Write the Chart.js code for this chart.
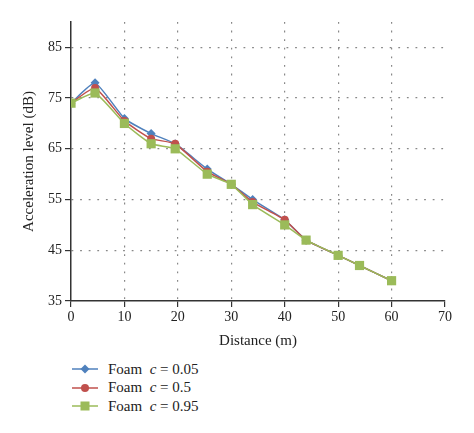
<!DOCTYPE html>
<html>
<head>
<meta charset="utf-8">
<script src="https://cdn.jsdelivr.net/npm/chart.js@4"></script>
<style>
    body { margin: 0; background: #fff; }
    #wrap { position: relative; width: 474px; height: 433px; }
    #chartBox { position: absolute; left: 0; top: 0; width: 474px; height: 352px; }
    #legend { position: absolute; left: 72px; top: 360px; font-family: 'Liberation Serif', serif; font-size: 15px; color: #222; }
    #legend .row { height: 18.5px; display: flex; align-items: center; }
    #legend svg { margin-right: 10px; }
</style>
</head>
<body>
<div id="wrap">
    <div id="chartBox"><canvas id="accelChart"></canvas></div>
    <div id="legend"></div>
</div>
<script>
const distance = [0, 4.5, 10, 15, 19.5, 25.5, 30, 34, 40, 44, 50, 54, 60];
const foamC005 = [74, 78, 71, 68, 66, 61, 58, 55, 51, 47, 44, 42, 39];
const foamC05 = [74, 77, 70.5, 67, 66, 60.5, 58, 54.5, 51, 47, 44, 42, 39];
const foamC095 = [74, 76, 70, 66, 65, 60, 58, 54, 50, 47, 44, 42, 39];
const seriesLabels = ['0.05', '0.5', '0.95'];
const yTicks = [35, 45, 55, 65, 75, 85];

const colors = ['#4f81bd', '#c0504d', '#9bbb59'];
const pointStyles = ['rectRot', 'circle', 'rect'];
const pointRadii = [4.5, 4, 6.5];

function toPoints(values) {
    return distance.map((d, i) => ({ x: d, y: values[i] }));
}

const allSeries = [foamC005, foamC05, foamC095];
const datasets = allSeries.map((values, i) => ({
    label: 'Foam c = ' + seriesLabels[i],
    data: toPoints(values),
    borderColor: colors[i],
    backgroundColor: colors[i],
    borderWidth: 1.5,
    pointStyle: pointStyles[i],
    pointRadius: pointRadii[i],
    pointBorderWidth: 0,
    tension: 0.15,
    order: 2 - i
}));

const serif = "'Liberation Serif', serif";
const dotted = [1.8, 6.8];

const accelChart = new Chart(document.getElementById('accelChart').getContext('2d'), {
    type: 'line',
    data: { datasets: datasets },
    options: {
        responsive: true,
        maintainAspectRatio: false,
        animation: false,
        layout: { padding: { top: 22, right: 29, left: 0, bottom: 0 } },
        plugins: { legend: { display: false }, tooltip: { enabled: false } },
        scales: {
            x: {
                type: 'linear',
                min: 0,
                max: 70,
                ticks: { stepSize: 10, color: '#222', font: { family: serif, size: 14 }, padding: 2, maxRotation: 0 },
                grid: {
                    color: ctx => (ctx.tick && (ctx.tick.value === 0 || ctx.tick.value === 70)) ? 'rgba(0,0,0,0)' : '#888',
                    lineWidth: 1.2,
                    tickColor: '#333',
                    tickLength: 6,
                    tickBorderDash: []
                },
                border: { color: '#333', width: 1.5, dash: dotted },
                title: { display: true, text: 'Distance (m)', color: '#222', font: { family: serif, size: 15 }, padding: { top: 0, bottom: 2 } },
                afterFit: scale => { scale.height = 51; }
            },
            y: {
                min: 35,
                max: 90,
                afterBuildTicks: axis => { axis.ticks = yTicks.map(v => ({ value: v })); },
                ticks: { color: '#222', font: { family: serif, size: 14 }, padding: 3 },
                grid: {
                    color: ctx => (ctx.tick && ctx.tick.value === 35) ? 'rgba(0,0,0,0)' : '#888',
                    lineWidth: 1.2,
                    tickColor: '#333',
                    tickLength: 6,
                    tickBorderDash: []
                },
                border: { color: '#333', width: 1.5, dash: dotted },
                title: { display: true, text: 'Acceleration level (dB)', color: '#222', font: { family: serif, size: 15 }, padding: { top: 20, bottom: 0 } },
                afterFit: scale => { scale.width = 71; }
            }
        }
    }
});

// legend below the chart, built from the datasets
const legendEl = document.getElementById('legend');
datasets.forEach((ds, i) => {
    const row = document.createElement('div');
    row.className = 'row';
    let marker;
    if (ds.pointStyle === 'circle') marker = '<circle cx="13" cy="6" r="4" fill="' + ds.borderColor + '"/>';
    else if (ds.pointStyle === 'rect') marker = '<rect x="8.5" y="1.5" width="9" height="9" fill="' + ds.borderColor + '"/>';
    else marker = '<polygon points="13,1.5 17.5,6 13,10.5 8.5,6" fill="' + ds.borderColor + '"/>';
    row.innerHTML = '<svg width="26" height="12"><line x1="0" y1="6" x2="26" y2="6" stroke="' + ds.borderColor + '" stroke-width="1.5"/>' + marker + '</svg>' +
        '<span>Foam&nbsp; <i>c</i> = ' + seriesLabels[i] + '</span>';
    legendEl.appendChild(row);
});
</script>
</body>
</html>
